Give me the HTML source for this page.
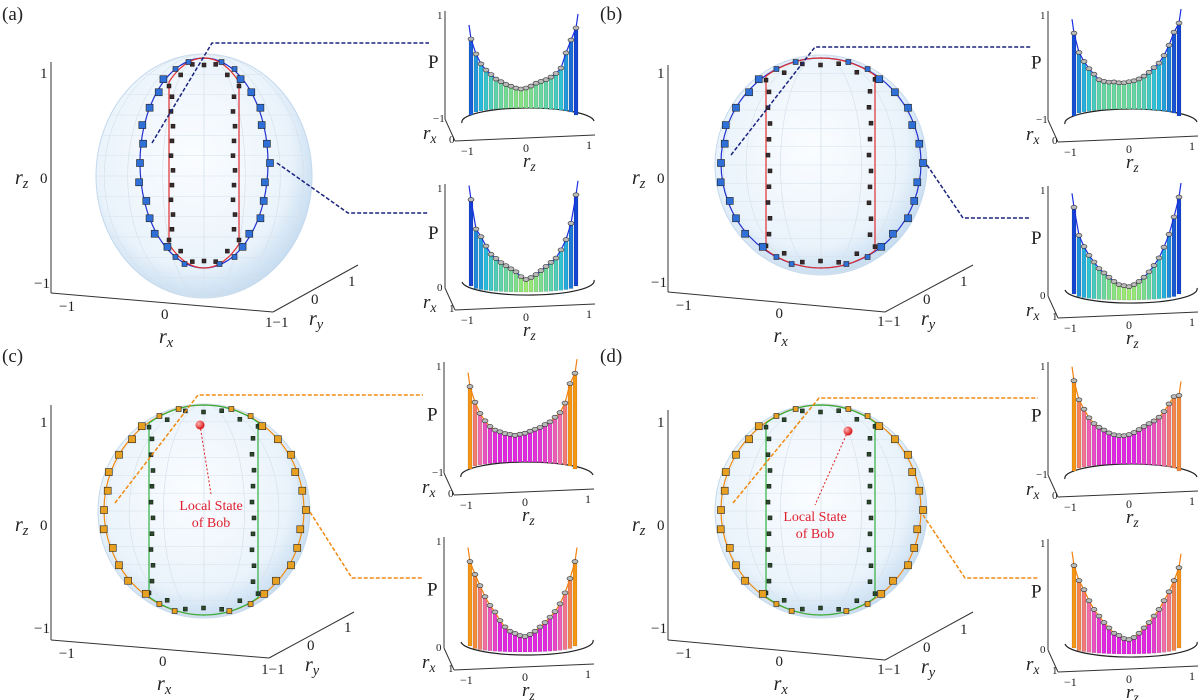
<!DOCTYPE html>
<html><head><meta charset="utf-8"><style>
body{margin:0;background:#fff}
svg{display:block}
text{font-family:"Liberation Serif",serif;fill:#222}
.it{font-style:italic}
</style></head><body>
<svg id="fig" width="1200" height="700" viewBox="0 0 1200 700" xmlns="http://www.w3.org/2000/svg">
<defs>
<radialGradient id="sph" cx="45%" cy="42%" r="60%">
<stop offset="0" stop-color="#fbfdff"/><stop offset="0.75" stop-color="#eaf3fb"/><stop offset="1" stop-color="#c4dbf0"/>
</radialGradient>
<radialGradient id="dot" cx="35%" cy="35%" r="65%"><stop offset="0" stop-color="#ffb0b0"/><stop offset="1" stop-color="#d81818"/></radialGradient>
</defs>
</svg>
<script>
// inset histogram values (P) per panel: top inset, bottom inset
const barsA1=[0.76,0.58,0.47,0.4,0.35,0.3,0.27,0.24,0.22,0.2,0.19,0.2,0.22,0.25,0.27,0.29,0.32,0.36,0.42,0.58,0.72,0.87];
const barsA2=[0.9,0.62,0.55,0.46,0.38,0.34,0.3,0.27,0.24,0.21,0.16,0.13,0.15,0.18,0.22,0.26,0.3,0.34,0.42,0.52,0.68,0.95];
const barsB1=[0.82,0.6,0.5,0.42,0.36,0.3,0.28,0.27,0.27,0.26,0.26,0.27,0.28,0.3,0.33,0.37,0.42,0.47,0.55,0.66,0.8,0.92];
const barsB2=[0.85,0.6,0.5,0.42,0.36,0.3,0.26,0.22,0.18,0.15,0.14,0.13,0.15,0.18,0.22,0.27,0.33,0.4,0.5,0.62,0.78,0.95];
const barsC1=[0.8,0.62,0.5,0.42,0.36,0.32,0.3,0.28,0.27,0.26,0.27,0.28,0.3,0.32,0.34,0.37,0.4,0.45,0.5,0.6,0.8,0.93];
const barsC2=[0.82,0.72,0.62,0.52,0.44,0.38,0.3,0.24,0.2,0.18,0.16,0.15,0.17,0.2,0.24,0.28,0.33,0.38,0.45,0.55,0.68,0.82];
const barsD1=[0.86,0.65,0.55,0.46,0.4,0.36,0.33,0.3,0.28,0.27,0.27,0.28,0.3,0.33,0.36,0.39,0.42,0.46,0.52,0.6,0.68,0.72];
const barsD2=[0.8,0.68,0.6,0.5,0.42,0.36,0.3,0.25,0.2,0.18,0.15,0.14,0.16,0.2,0.25,0.3,0.36,0.42,0.5,0.58,0.68,0.78];
const zTicks=["1","0","\u22121"];
const xTicks=["\u22121","0","1\u22121"];
const yTicks=["0","1"];
const inTicks=["\u22121","0","1"];

const svg=document.getElementById('fig');
const NS='http://www.w3.org/2000/svg';
function mk(tag,attrs,parent,txt){const e=document.createElementNS(NS,tag);for(const k in attrs)e.setAttribute(k,attrs[k]);if(txt!==undefined)e.textContent=txt;(parent||svg).appendChild(e);return e;}
function lerp(a,b,t){return a.map((v,i)=>Math.round(v+(b[i]-v)*t));}
function colFor(v,theme){
  if(theme==='blue'){const lo=[160,235,110],mid=[40,190,220],hi=[20,70,210];
    const c=v<0.45?lerp(lo,mid,Math.max(0,(v-0.12)/0.33)):lerp(mid,hi,Math.min(1,(v-0.45)/0.4));return 'rgb('+c+')';}
  const lo=[225,40,225],mid=[240,110,170],hi=[245,150,20];
  const c=v<0.5?lerp(lo,mid,Math.max(0,(v-0.3)/0.2)):lerp(mid,hi,Math.min(1,(v-0.5)/0.3));return 'rgb('+c+')';
}
function rlabel(g,x,y,sub,size){const t=mk('text',{x:x,y:y,'font-size':size||20,class:'it'},g);t.textContent='r';mk('tspan',{dy:4,'font-size':(size||20)*0.72},t,sub);return t;}

function inset(g,x0,y1,y0,vals,theme,top,name){
  const ig=mk('g',{},g);
  
  
  mk('line',{x1:x0,y1:y1-6,x2:x0,y2:y0,stroke:'#333','stroke-width':1},ig);
  mk('line',{x1:x0,y1:y0,x2:x0+10,y2:y0+22,stroke:'#333','stroke-width':1},ig);
  mk('line',{x1:x0+10,y1:y0+22,x2:x0+150,y2:y0+16,stroke:'#333','stroke-width':1},ig);
  mk('text',{x:x0-8,y:y1+2,'font-size':11},ig,'1');
  mk('text',{x:x0-17,y:(y1+y0)/2,'font-size':19},ig,'P');
  mk('text',{x:x0-(top?12:8),y:y0+3,'font-size':11},ig,top?'\u22121':'0');
  mk('text',{x:x0+4,y:y0+24,'font-size':11},ig,top?'0':'1');
  rlabel(ig,x0-22,y0+20,'x',19);
  const tx=[21,83,146];
  inTicks.forEach((t,i)=>mk('text',{x:x0+tx[i]-5,y:y0+36-i*3,'font-size':12},ig,t));
  rlabel(ig,x0+78,y0+48,'z',19);
  const cx=x0+83, aw=66;
  if(top) mk('path',{d:`M${cx-aw},${y0+4} A${aw},14 0 0 1 ${cx+aw},${y0+2}`,fill:'none',stroke:'#222','stroke-width':1.2},ig);
  else mk('path',{d:`M${cx-aw},${y0-6} A${aw},14 0 0 0 ${cx+aw},${y0-8}`,fill:'none',stroke:'#222','stroke-width':1.2},ig);
  const n=vals.length, bx0=x0+26, bx1=x0+131, H=(y0-y1)-2;
  const baseY=i=>{const t=(i/(n-1))*2-1;return top? y0-4-7*Math.sqrt(Math.max(0,1-t*t)) : y0-2+6*Math.sqrt(Math.max(0,1-t*t));};
  const xs=i=>bx0+(bx1-bx0)*i/(n-1);
  const pts=[];
  vals.forEach((v,i)=>{
    const x=xs(i),b=baseY(i),ty=b-v*H;
    const r=mk('rect',{x:x-2,y:ty,width:4,height:b-ty,fill:colFor(v,theme),stroke:'rgba(0,0,0,0.25)','stroke-width':0.4},ig);
    
    
    pts.push([x,ty]);
  });
  mk('polyline',{points:[[pts[0][0]-2,pts[0][1]-14]].concat(pts).concat([[pts[n-1][0]+2,pts[n-1][1]-14]]).map(p=>p.join(',')).join(' '),fill:'none',stroke:theme==='blue'?'#1a2ee0':'#f08010','stroke-width':1.2},ig);
  pts.forEach(p=>mk('ellipse',{cx:p[0],cy:p[1],rx:3,ry:2,fill:'#bbb',stroke:'#333','stroke-width':0.6},ig));
}

function panel(c){
  const g=mk('g',{});
  
  
  mk('text',{x:c.lab[0],y:c.lab[1],'font-size':19},g,c.lab[2]);
  const z=c.zax;
  mk('line',{x1:z.x,y1:z.y0,x2:z.x,y2:z.y1,stroke:'#333','stroke-width':1},g);
  mk('line',{x1:z.x,y1:z.y1,x2:c.bot[0],y2:c.bot[1],stroke:'#333','stroke-width':1},g);
  mk('line',{x1:c.bot[0],y1:c.bot[1],x2:c.ry[0],y2:c.ry[1],stroke:'#333','stroke-width':1},g);
  zTicks.forEach((t,i)=>mk('text',{x:z.x-(i==2?17:11),y:z.t[i]+5,'font-size':15},g,t));
  rlabel(g,z.x-36,z.t[1]+6,'z',20);
  const bw=c.bot[0]-z.x;
  [[8,18],[110,26],[214,34]].forEach((o,i)=>mk('text',{x:z.x+o[0]*bw/222,y:z.y1+o[1],'font-size':15},g,xTicks[i]));
  rlabel(g,z.x+108*bw/222,z.y1+50,'x',20);
  mk('text',{x:c.bot[0]+38,y:c.bot[1]-8,'font-size':15},g,yTicks[0]);
  mk('text',{x:c.bot[0]+75,y:c.bot[1]-26,'font-size':15},g,yTicks[1]);
  rlabel(g,c.bot[0]+36,c.bot[1]+13,'y',20);
  const s=c.sph;
  const sg=mk('g',{},g);
  const sp=mk('ellipse',{cx:s.cx,cy:s.cy,rx:s.rx,ry:s.ry,fill:'url(#sph)',stroke:'#c4d9ee','stroke-width':1},sg);
  
  
  for(let k=1;k<8;k++){const f=Math.cos(k*Math.PI/8);mk('ellipse',{cx:s.cx,cy:s.cy,rx:Math.abs(s.rx*f),ry:s.ry,fill:'none',stroke:'#d5e1ec','stroke-width':0.5},sg);}
  for(let k=1;k<12;k++){const yy=s.cy-s.ry+k*2*s.ry/12,w=s.rx*Math.sqrt(1-Math.pow((yy-s.cy)/s.ry,2));mk('line',{x1:s.cx-w,y1:yy,x2:s.cx+w,y2:yy,stroke:'#d5e1ec','stroke-width':0.5},sg);}
  const o=c.outer, inn=c.inner;
  mk('ellipse',{cx:o.cx,cy:o.cy,rx:o.rx,ry:o.ry,fill:'none',stroke:c.oc,'stroke-width':1.2},sg);
  const hOf=vx=>inn.ry*Math.sqrt(Math.max(0,1-Math.pow(vx/inn.rx,2)));
  const v0=c.vl[0],v1=c.vl[1];
  const pp=[];
  for(let k=0;k<=30;k++){const vx=v0+(v1-v0)*k/30;pp.push([inn.cx+vx,inn.cy-hOf(vx)]);}
  for(let k=30;k>=0;k--){const vx=v0+(v1-v0)*k/30;pp.push([inn.cx+vx,inn.cy+hOf(vx)]);}
  mk('polygon',{points:pp.map(p=>p[0].toFixed(1)+','+p[1].toFixed(1)).join(' '),fill:'none',stroke:c.ic,'stroke-width':1.2},sg);
  c.vl.forEach(vx=>{const h=hOf(vx);for(let k=1;k<=10;k++){const yy=inn.cy-h+k*2*h/11;mk('rect',{x:inn.cx+vx-(vx<0?-2:6)-(k%3),y:yy-2,width:4,height:4,fill:c.dc,stroke:'#111','stroke-width':0.5},sg);}});
  for(let k=0;k<=6;k++){const xx=inn.cx+v0+k*(v1-v0)/6;const h=hOf(xx-inn.cx);
    mk('rect',{x:xx-2,y:inn.cy-h+2+(k%2)*3,width:4,height:4,fill:c.dc,stroke:'#111','stroke-width':0.5},sg);
    mk('rect',{x:xx-2,y:inn.cy+h-6-(k%2)*3,width:4,height:4,fill:c.dc,stroke:'#111','stroke-width':0.5},sg);}
  for(let k=0;k<34;k++){const a=-Math.PI/2+ (k+0.5)*2*Math.PI/34; if(Math.abs(Math.cos(a))<0.25) continue;
    const px=o.cx+o.rx*Math.cos(a)+(k%3-1)*2, py=o.cy+o.ry*Math.sin(a);
    const sz=Math.abs(Math.cos(a))>0.6?7:5;
    const q=mk('rect',{x:px-sz/2,y:py-sz/2,width:sz,height:sz,fill:c.pc,stroke:'#222','stroke-width':0.6},sg);
    
    }
  if(c.bob){
    mk('line',{x1:c.bob[0],y1:c.bob[1],x2:c.bob[2],y2:c.bob[3]-16,stroke:'#e02020','stroke-width':1,'stroke-dasharray':'2,2'},g);
    mk('circle',{cx:c.bob[0],cy:c.bob[1],r:4.5,fill:'url(#dot)'},g);
    const t1=mk('text',{x:c.bob[2],y:c.bob[3],'font-size':14,'text-anchor':'middle',style:'fill:#e02030'},g,'Local State');
    
    
    mk('text',{x:c.bob[2],y:c.bob[3]+17,'font-size':14,'text-anchor':'middle',style:'fill:#e02030'},g,'of Bob');
  }
  mk('polyline',{points:c.d1.map(p=>p.join(',')).join(' '),fill:'none',stroke:c.dash,'stroke-width':1.5,'stroke-dasharray':'4,2'},g);
  mk('polyline',{points:c.d2.map(p=>p.join(',')).join(' '),fill:'none',stroke:c.dash,'stroke-width':1.5,'stroke-dasharray':'4,2'},g);
  inset(g,c.ix,c.it[0],c.it[1],c.v1,c.theme,true,c.name+'-inset-top');
  inset(g,c.ix,c.ib[0],c.ib[1],c.v2,c.theme,false,c.name+'-inset-bottom');
}

panel({name:'panel-a',lab:[2,20,'(a)'],sph:{cx:204,cy:176,rx:108,ry:122},outer:{cx:204,cy:163,rx:64,ry:105},inner:{cx:204,cy:163,rx:55,ry:105},vl:[-35,35],
  zax:{x:51,y0:62,y1:293,t:[73,178,283]},bot:[273,312],ry:[358,265],oc:'#2030d0',ic:'#e03030',pc:'#2f6fd8',dc:'#3a2a2a',dash:'#1a237e',
  d1:[[152,143],[212,43],[429,43]],d2:[[277,163],[348,213],[429,213]],ix:445,it:[17,119],ib:[190,288],v1:barsA1,v2:barsA2,theme:'blue'});
panel({name:'panel-b',lab:[600,20,'(b)'],sph:{cx:821,cy:165,rx:106,ry:110},outer:{cx:821,cy:163,rx:100,ry:105},inner:{cx:821,cy:163,rx:98,ry:105},vl:[-55,54],
  zax:{x:668,y0:65,y1:292,t:[73,178,282]},bot:[885,312],ry:[973,265],oc:'#2030d0',ic:'#e03030',pc:'#2f6fd8',dc:'#3a2a2a',dash:'#1a237e',
  d1:[[731,155],[815,47],[1031,47]],d2:[[927,165],[963,218],[1031,218]],ix:1048,it:[17,120],ib:[192,296],v1:barsB1,v2:barsB2,theme:'blue'});
panel({name:'panel-c',lab:[2,362,'(c)'],sph:{cx:204,cy:511,rx:106,ry:107},outer:{cx:204,cy:510,rx:100,ry:105},inner:{cx:204,cy:510,rx:98,ry:105},vl:[-55,54],
  zax:{x:51,y0:405,y1:640,t:[422,525,628]},bot:[269,658],ry:[354,612],oc:'#f08a10',ic:'#30b040',pc:'#e8a020',dc:'#2a4a2a',dash:'#f08a10',
  bob:[200,425,211,510],d1:[[115,503],[198,395],[423,395]],d2:[[310,512],[352,578],[423,578]],ix:444,it:[368,473],ib:[543,648],v1:barsC1,v2:barsC2,theme:'pink'});
panel({name:'panel-d',lab:[600,362,'(d)'],sph:{cx:821,cy:511,rx:106,ry:107},outer:{cx:821,cy:510,rx:100,ry:105},inner:{cx:821,cy:510,rx:98,ry:105},vl:[-55,54],
  zax:{x:668,y0:410,y1:640,t:[422,525,628]},bot:[885,660],ry:[973,612],oc:'#f08a10',ic:'#30b040',pc:'#e8a020',dc:'#2a4a2a',dash:'#f08a10',
  bob:[848,431,815,521],d1:[[733,503],[819,398],[1038,398]],d2:[[923,515],[965,578],[1038,578]],ix:1048,it:[368,475],ib:[545,650],v1:barsD1,v2:barsD2,theme:'pink'});
</script>
</body></html>
